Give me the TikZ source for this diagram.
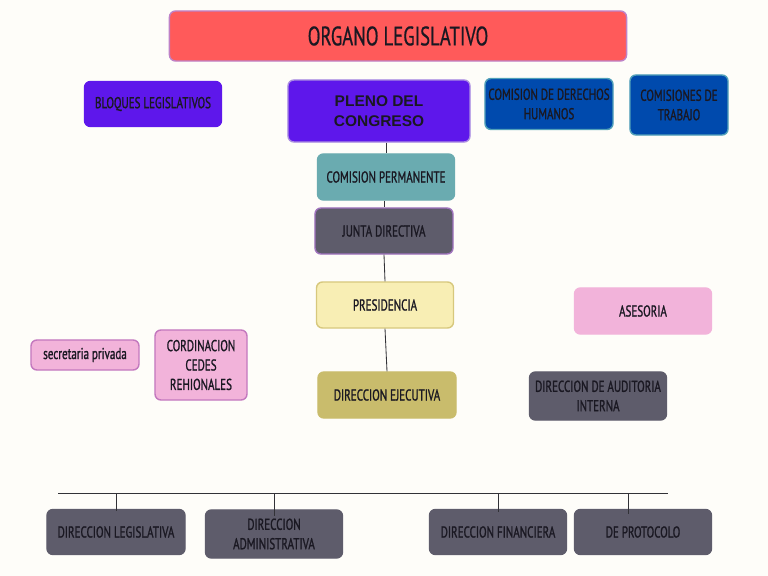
\documentclass[tikz,border=0pt]{standalone}
\usepackage{fontspec}
\usepackage{tikz}
\newfontfamily\condfont[FakeStretch=0.7, FakeBold=1.2]{PT Sans}
\newfontfamily\titlefont[FakeStretch=0.7, FakeBold=0.6]{PT Sans}
\newfontfamily\plenofont{Liberation Sans}
\definecolor{pagebg}{RGB}{254,253,249}
\definecolor{inkdark}{RGB}{26,24,34}
\definecolor{titlered}{RGB}{255,90,90}
\definecolor{titleborder}{RGB}{190,130,200}
\definecolor{violetfill}{RGB}{94,23,235}
\definecolor{violetborder}{RGB}{170,140,225}
\definecolor{bluefill}{RGB}{0,74,173}
\definecolor{blueborder}{RGB}{80,160,185}
\definecolor{tealfill}{RGB}{106,171,176}
\definecolor{slatefill}{RGB}{94,92,107}
\definecolor{slateborder}{RGB}{160,115,190}
\definecolor{creamfill}{RGB}{248,238,180}
\definecolor{creamborder}{RGB}{215,200,125}
\definecolor{olivefill}{RGB}{201,188,108}
\definecolor{pinkfill}{RGB}{242,179,218}
\definecolor{pinkborder}{RGB}{195,120,190}
\definecolor{linkgrey}{RGB}{50,50,55}
\tikzset{
  orgbox/.style = {rectangle, rounded corners=0.15cm, line width=1pt, align=center,
                   text=inkdark, inner sep=2pt, minimum width=3.425cm, minimum height=1.15cm,
                   font=\condfont\fontsize{11.2}{13.8}\selectfont},
  orglink/.style = {draw=linkgrey, line width=0.6pt}
}
\begin{document}
\begin{tikzpicture}[x=0.025cm, y=-0.025cm]
\useasboundingbox[fill=pagebg] (0,0) rectangle (768,576);

% cabeza
\node[orgbox, fill=titlered, draw=titleborder, minimum width=11.425cm, minimum height=1.25cm,
      font=\titlefont\fontsize{19}{20}\selectfont] (organo) at (398,36) {ORGANO LEGISLATIVO};

% fila superior
\node[orgbox, fill=violetfill, draw=violetfill, minimum height=1.125cm] (bloques) at (153,104) {BLOQUES LEGISLATIVOS};
\node[orgbox, fill=violetfill, draw=violetborder, minimum width=4.55cm, minimum height=1.55cm,
      font=\plenofont\bfseries\fontsize{11}{14.2}\selectfont] (pleno) at (379,111) {PLENO DEL\\CONGRESO};
\node[orgbox, fill=bluefill, draw=blueborder, minimum width=3.2cm, minimum height=1.275cm] (derechos) at (549,104) {COMISION DE DERECHOS\\HUMANOS};
\node[orgbox, fill=bluefill, draw=blueborder, minimum width=2.45cm, minimum height=1.5cm] (trabajo) at (679,105) {COMISIONES DE\\TRABAJO};

% eje central
\node[orgbox, fill=tealfill, draw=tealfill] (permanente) at (386,177) {COMISION PERMANENTE};
\node[orgbox, fill=slatefill, draw=slateborder, minimum width=3.45cm] (junta) at (384,231) {JUNTA DIRECTIVA};
\node[orgbox, fill=creamfill, draw=creamborder] (presidencia) at (385,305) {PRESIDENCIA};
\node[orgbox, fill=olivefill, draw=olivefill, minimum width=3.45cm] (ejecutiva) at (387,395) {DIRECCION EJECUTIVA};

% laterales
\node[orgbox, fill=pinkfill, draw=pinkfill] (asesoria) at (643,311) {ASESORIA};
\node[orgbox, fill=slatefill, draw=slatefill, minimum height=1.2cm] (auditoria) at (598,396) {DIRECCION DE AUDITORIA\\INTERNA};
\node[orgbox, fill=pinkfill, draw=pinkborder, minimum width=2.7cm, minimum height=0.75cm] (secretaria) at (85,355) {secretaria privada};
\node[orgbox, fill=pinkfill, draw=pinkborder, minimum width=2.3cm, minimum height=1.75cm] (cedes) at (201,365) {CORDINACION\\CEDES\\REHIONALES};

% direcciones inferiores
\node[orgbox, fill=slatefill, draw=slatefill, minimum width=3.45cm, minimum height=1.125cm] (legislativa) at (116,532) {DIRECCION LEGISLATIVA};
\node[orgbox, fill=slatefill, draw=slatefill, minimum height=1.2cm] (administrativa) at (274,534) {DIRECCION\\ADMINISTRATIVA};
\node[orgbox, fill=slatefill, draw=slatefill, minimum height=1.125cm] (financiera) at (498,532) {DIRECCION FINANCIERA};
\node[orgbox, fill=slatefill, draw=slatefill, minimum height=1.125cm] (protocolo) at (643,532) {DE PROTOCOLO};

\coordinate (busL) at (58,493);
\coordinate (busR) at (668,493);

% conexiones
\draw[orglink] (pleno.south -| permanente.north) -- (permanente.north);
\draw[orglink] (permanente.south -| junta.north) -- (junta.north);
\draw[orglink] (junta.south) -- (presidencia.north);
\draw[orglink] (presidencia.south) -- (ejecutiva.north);
\draw[orglink] (busL) -- (busR);
\draw[orglink] (legislativa.north |- busL) -- ([yshift=-0.05cm]legislativa.north);
\draw[orglink] (administrativa.north |- busL) -- ([yshift=-0.18cm]administrativa.north);
\draw[orglink] (financiera.north |- busL) -- ([yshift=-0.07cm]financiera.north);
\draw[orglink] ([xshift=-0.375cm]protocolo.north |- busL) -- ([xshift=-0.375cm, yshift=-0.12cm]protocolo.north);
\end{tikzpicture}
\end{document}
